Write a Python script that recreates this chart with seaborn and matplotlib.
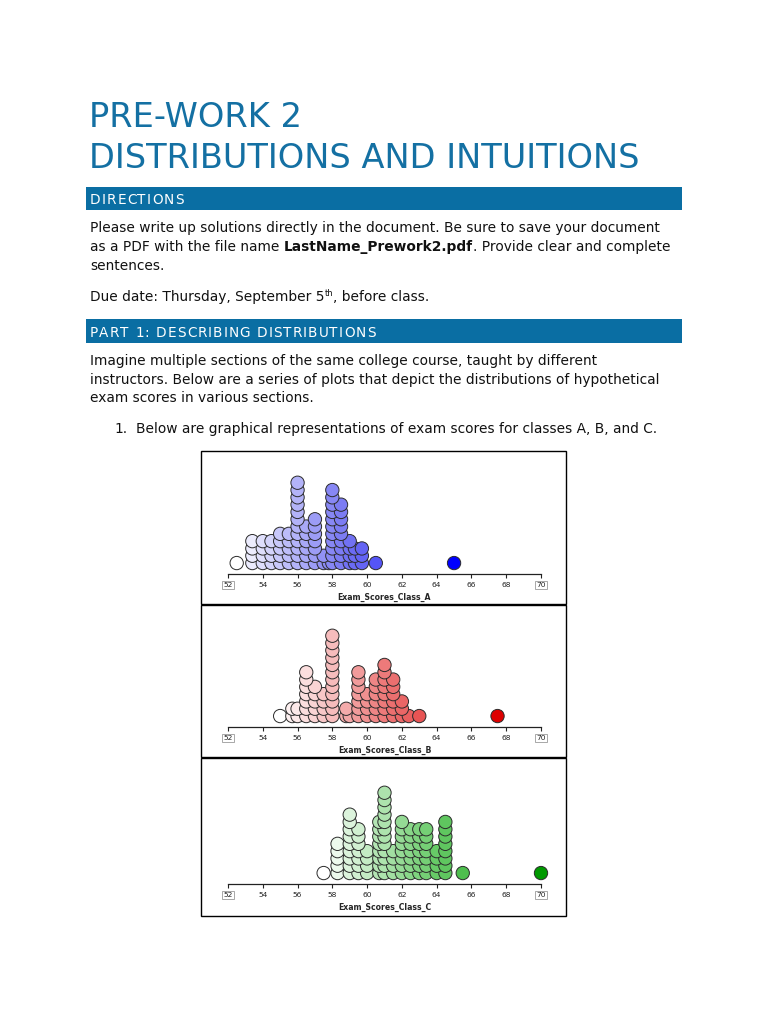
import numpy as np
import pandas as pd
import matplotlib.pyplot as plt
import seaborn as sns
from matplotlib.patches import Rectangle

W, H = 768, 1024

# dot plot data: score of each stack and number of dots in it
scores_a = [52.5, 53.4, 54.0, 54.5, 55.0, 55.5, 56.0, 56.5, 57.0, 57.5, 57.8,
            58.0, 58.5, 59.0, 59.3, 59.7, 60.5, 65.0]
counts_a = [1, 4, 4, 4, 5, 5, 12, 6, 7, 2, 1, 11, 9, 4, 3, 3, 1, 1]

scores_b = [55.0, 55.7, 56.0, 56.5, 57.0, 57.5, 58.0, 58.8, 59.0, 59.5, 60.0,
            60.5, 61.0, 61.5, 62.0, 62.4, 63.0, 67.5]
counts_b = [1, 2, 2, 7, 5, 4, 12, 2, 1, 7, 4, 6, 8, 6, 3, 1, 1, 1]

scores_c = [57.5, 58.3, 59.0, 59.5, 60.0, 60.7, 61.0, 61.5, 62.0, 62.5, 63.0,
            63.4, 64.0, 64.5, 65.5, 70.0]
counts_c = [1, 5, 9, 7, 4, 8, 12, 4, 8, 7, 7, 7, 4, 8, 1, 1]

ticks = [52, 54, 56, 58, 60, 62, 64, 66, 68, 70]
labels = ["Exam_Scores_Class_A", "Exam_Scores_Class_B", "Exam_Scores_Class_C"]
# white -> middle -> full colour for each class
ramps = [["white", "#7676f2", "#0000ff"],
         ["white", "#ec7474", "#dd0000"],
         ["white", "#6ccc6c", "#009900"]]

sns.set_style("white")
plt.rcParams['font.family'] = ['DejaVu Sans']

fig = plt.figure(figsize=(W / 100, H / 100), dpi=100)
renderer = fig.canvas.get_renderer()

def fx(px):
    return px / W

def fy(py):
    return 1 - py / H

def text_width(txt, **kw):
    # measure with bars around the text so spaces count
    t1 = fig.text(0, 0, "|" + txt + "|", **kw)
    t2 = fig.text(0, 0, "||", **kw)
    w = t1.get_window_extent(renderer).width - t2.get_window_extent(renderer).width
    t1.remove(); t2.remove()
    return w

def line(x, y, parts, size=9.9, color="#111111"):
    for part in parts:
        txt, weight = part[0], part[1]
        dy = part[2] if len(part) > 2 else 0
        sz = part[3] if len(part) > 3 else size
        fig.text(fx(x), fy(y - dy), txt, fontsize=sz, fontweight=weight,
                 color=color, va="baseline", ha="left")
        x += text_width(txt, fontsize=sz, fontweight=weight)

def spaced(x, y, txt, size, color, gap):
    # heading text with a little letter spacing
    for ch in txt:
        fig.text(fx(x), fy(y), ch, fontsize=size, color=color, va="baseline")
        x += text_width(ch, fontsize=size) + gap

# header text
blue = "#1470a3"
fig.text(fx(89), fy(127), "PRE-WORK 2", fontsize=24.2, color=blue, va="baseline")
fig.text(fx(89), fy(168), "DISTRIBUTIONS AND INTUITIONS", fontsize=24.2, color=blue, va="baseline")

def bar(top, bottom, title):
    fig.add_artist(Rectangle((fx(86), fy(bottom)), fx(682) - fx(86), fy(top) - fy(bottom),
                             transform=fig.transFigure, facecolor="#0a6ea3", edgecolor="none"))
    spaced(90, bottom - 6, title, 9.8, "white", 1.05)

bar(187, 210, "DIRECTIONS")
line(90, 232, [("Please write up solutions directly in the document. Be sure to save your document", "normal")])
line(90, 251, [("as a PDF with the file name ", "normal"), ("LastName_Prework2.pdf", "bold"),
               (". Provide clear and complete", "normal")])
line(90, 270, [("sentences.", "normal")])
line(90, 301, [("Due date: Thursday, September 5", "normal"), ("th", "normal", 5, 6),
               (", before class.", "normal")])

bar(319, 343, "PART 1: DESCRIBING DISTRIBUTIONS")
line(90, 365, [("Imagine multiple sections of the same college course, taught by different", "normal")])
line(90, 384, [("instructors. Below are a series of plots that depict the distributions of hypothetical", "normal")])
line(90, 402, [("exam scores in various sections.", "normal")])
line(114, 433, [("1.", "normal")])
line(136, 433, [("Below are graphical representations of exam scores for classes A, B, and C.", "normal")])

# dot plots
panels = [(451, 604, 574, 455), (605, 757, 727, 608), (758, 916, 884, 762)]
data = [(scores_a, counts_a), (scores_b, counts_b), (scores_c, counts_c)]
step = 7.3    # px between stacked dots
base = 1.5    # first dot centre, in steps above axis

for (ptop, pbot, axb, axt), (scores, counts), lab, ramp in zip(panels, data, labels, ramps):
    fig.add_artist(Rectangle((fx(201), fy(pbot)), fx(566) - fx(201), fy(ptop) - fy(pbot),
                             transform=fig.transFigure, facecolor="white",
                             edgecolor="black", linewidth=1, zorder=0))
    ax = fig.add_axes([fx(228), fy(axb), fx(541) - fx(228), fy(axt) - fy(axb)])
    ax.patch.set_alpha(0)

    df = pd.DataFrame({"score": np.repeat(scores, counts)})
    df["level"] = df.groupby("score").cumcount()
    df["y"] = base + df["level"]
    df = df.sort_values(["level", "score"])

    cmap = sns.blend_palette(ramp, as_cmap=True)
    sns.scatterplot(data=df, x="score", y="y", hue="score", palette=cmap,
                    hue_norm=(min(scores), max(scores)), s=92, edgecolor="#2b2b2b",
                    linewidth=0.7, legend=False, ax=ax, clip_on=False)

    ax.set_xlim(52, 70)
    ax.set_ylim(0, (axb - axt) / step)
    ax.set_xticks(ticks)
    ax.set_yticks([])
    ax.set_ylabel("")
    sns.despine(ax=ax, left=True)
    ax.spines["bottom"].set_linewidth(0.9)
    ax.spines["bottom"].set_color("#222222")
    ax.tick_params(axis="x", direction="out", length=3, width=0.8, pad=3,
                   labelsize=5.4, colors="#222222", bottom=True)
    ax.set_xlabel(lab, fontsize=5.6, fontweight="bold", labelpad=3)
    for tl in ax.get_xticklabels():
        if tl.get_text() in ("52", "70"):
            tl.set_bbox(dict(facecolor="white", edgecolor="#9a9a9a", pad=0.8, linewidth=0.6))

fig.savefig("out.png", dpi=100, facecolor="white")
